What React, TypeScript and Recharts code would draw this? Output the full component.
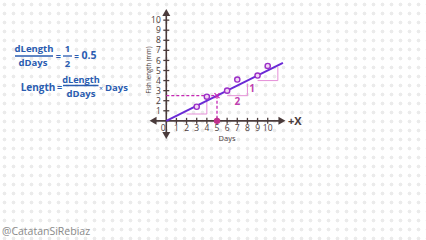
import React from 'react';
import {
  ComposedChart,
  Line,
  Scatter,
  XAxis,
  YAxis,
  ReferenceLine,
} from 'recharts';

// observed fish lengths
const observedDays = [3, 4, 6, 7, 9, 10];
const observedLength = [1.4, 2.4, 3, 4.1, 4.5, 5.45];

// fitted line, slope 1/2
const fitDays = [0, 11.5];
const fitLength = [0, 5.75];

const xTicks = [1, 2, 3, 4, 5, 6, 7, 8, 9, 10];
const yTicks = [1, 2, 3, 4, 5, 6, 7, 8, 9, 10];

// slope triangles: [x1, y1, x2, y2, x3, y3]
const slopeTriangles = [
  [2, 0.68, 4, 0.68, 4, 2.05],
  [6, 2.5, 8, 2.5, 8, 3.7],
  [9, 4, 11, 4, 11, 5.35],
];

// reading the value at day 5
const readDay = 5;
const readLength = 2.5;

const observed = observedDays.map((x, i) => ({ x, y: observedLength[i] }));
const fit = fitDays.map((x, i) => ({ x, y: fitLength[i] }));
const xTickData = xTicks.map((x) => ({ x, y: 0 }));
const yTickData = yTicks.map((y) => ({ x: 0, y }));
const arrows = [
  { x: -1.65, y: 0, dir: 'left' },
  { x: 11.75, y: 0, dir: 'right' },
  { x: 0, y: 11.1, dir: 'up' },
  { x: 0, y: -1.8, dir: 'down' },
];

const AXIS = '#4a3b3b';
const BLUE = '#2a5cb0';
const MAGENTA = '#c628b4';
const PINK = '#e58fd8';
const PURPLE = '#6a2ad6';
const FONT = '"Open Sans", "Noto Sans", sans-serif';

const Arrow = (props: any) => {
  const { cx, cy, payload } = props;
  const s = 4;
  const l = 7;
  let pts = '';
  if (payload.dir === 'left') pts = `${cx},${cy} ${cx + l},${cy - s} ${cx + l},${cy + s}`;
  if (payload.dir === 'right') pts = `${cx},${cy} ${cx - l},${cy - s} ${cx - l},${cy + s}`;
  if (payload.dir === 'up') pts = `${cx},${cy} ${cx - s},${cy + l} ${cx + s},${cy + l}`;
  if (payload.dir === 'down') pts = `${cx},${cy} ${cx - s},${cy - l} ${cx + s},${cy - l}`;
  return <polygon points={pts} fill={AXIS} />;
};

const XTick = (props: any) => {
  const { cx, cy, payload } = props;
  return (
    <g>
      <line x1={cx} y1={cy - 3} x2={cx} y2={cy + 3} stroke={AXIS} strokeWidth={1.3} />
      <text x={cx} y={cy + 10.5} textAnchor="middle" fontSize={8.5} fill={AXIS} fontFamily={FONT}>
        {payload.x}
      </text>
    </g>
  );
};

const YTick = (props: any) => {
  const { cx, cy, payload } = props;
  return (
    <g>
      <line x1={cx - 3} y1={cy} x2={cx + 3} y2={cy} stroke={AXIS} strokeWidth={1.3} />
      <text x={cx - 5.5} y={cy + 3.1} textAnchor="end" fontSize={8.5} fill={AXIS} fontFamily={FONT}>
        {payload.y}
      </text>
    </g>
  );
};

const Point = (props: any) => {
  const { cx, cy } = props;
  return <circle cx={cx} cy={cy} r={2.6} fill="#f3d6f3" stroke="#9a2fc8" strokeWidth={1.4} />;
};

const ReadDot = (props: any) => {
  const { cx, cy } = props;
  return <circle cx={cx} cy={cy} r={3.2} fill="#c0308c" />;
};

const Cross = (props: any) => {
  const { cx, cy } = props;
  return (
    <g stroke={MAGENTA} strokeWidth={1.2}>
      <line x1={cx - 2.5} y1={cy - 2.5} x2={cx + 2.5} y2={cy + 2.5} />
      <line x1={cx - 2.5} y1={cy + 2.5} x2={cx + 2.5} y2={cy - 2.5} />
    </g>
  );
};

// formula text, centred on (x, y)
const T = ({ x, y, size = 9.5, weight = 700, children }: any) => (
  <text
    x={x}
    y={y}
    textAnchor="middle"
    dominantBaseline="central"
    fontSize={size}
    fontWeight={weight}
    fill={BLUE}
    fontFamily={FONT}
  >
    {children}
  </text>
);

const FracBar = ({ x1, x2, y }: any) => <line x1={x1} x2={x2} y1={y} y2={y} stroke={BLUE} strokeWidth={1.3} />;

export default function App() {
  return (
    <div
      style={{
        position: 'fixed',
        left: 0,
        top: 0,
        width: 426,
        height: 240,
        background: '#fff',
        backgroundImage: 'radial-gradient(circle, #ebebeb 1.6px, transparent 2.2px)',
        backgroundSize: '9px 9px',
        overflow: 'hidden',
        fontFamily: FONT,
      }}
    >
      <svg width={426} height={240} style={{ position: 'absolute', left: 0, top: 0 }}>
        <T x={34} y={48.5}>dLength</T>
        <FracBar x1={15} x2={53} y={56} />
        <T x={33} y={62.5}>dDays</T>
        <T x={58.3} y={56} size={9}>=</T>
        <T x={67.5} y={48}>1</T>
        <FracBar x1={63} x2={72} y={56} />
        <T x={67.5} y={63}>2</T>
        <T x={76.5} y={56} size={8}>=</T>
        <T x={89} y={55} size={10.5}>0.5</T>

        <T x={38} y={87} size={10}>Length</T>
        <T x={59.5} y={87} size={9}>=</T>
        <T x={81} y={79.5} size={9.2}>dLength</T>
        <FracBar x1={63} x2={98.5} y={85.5} />
        <T x={81} y={93.5}>dDays</T>
        <T x={101} y={88} size={7} weight={400}>×</T>
        <T x={116.5} y={87.5} size={9.5}>Days</T>
      </svg>

      <div style={{ position: 'absolute', left: 2, top: 224, color: '#8a8a8a', fontSize: 10.5 }}>
        @CatatanSiRebiaz
      </div>

      <div style={{ position: 'absolute', left: 0, top: 0 }}>
        <ComposedChart width={426} height={240} margin={{ top: 0, right: 138, bottom: 99, left: 146 }}>
          <XAxis type="number" dataKey="x" domain={[-2, 12]} hide allowDataOverflow />
          <YAxis type="number" dataKey="y" domain={[-2, 12]} hide allowDataOverflow />

          <ReferenceLine segment={[{ x: -1.3, y: 0 }, { x: 11.4, y: 0 }]} stroke={AXIS} strokeWidth={1.6} ifOverflow="visible" />
          <ReferenceLine segment={[{ x: 0, y: -1.4 }, { x: 0, y: 10.8 }]} stroke={AXIS} strokeWidth={1.6} ifOverflow="visible" />

          {slopeTriangles.map((t, i) => (
            <ReferenceLine key={`h${i}`} segment={[{ x: t[0], y: t[1] }, { x: t[2], y: t[3] }]} stroke={PINK} strokeWidth={1} ifOverflow="visible" />
          ))}
          {slopeTriangles.map((t, i) => (
            <ReferenceLine key={`v${i}`} segment={[{ x: t[2], y: t[3] }, { x: t[4], y: t[5] }]} stroke={PINK} strokeWidth={1} ifOverflow="visible" />
          ))}

          <ReferenceLine segment={[{ x: 0, y: readLength }, { x: readDay, y: readLength }]} stroke={MAGENTA} strokeWidth={1.3} strokeDasharray="3 2" ifOverflow="visible" />
          <ReferenceLine segment={[{ x: readDay, y: readLength }, { x: readDay, y: 0 }]} stroke={MAGENTA} strokeWidth={1.3} strokeDasharray="3 2" ifOverflow="visible" />

          <Scatter data={arrows} shape={Arrow} isAnimationActive={false} />
          <Scatter data={xTickData} shape={XTick} isAnimationActive={false} />
          <Scatter data={yTickData} shape={YTick} isAnimationActive={false} />

          <Line data={fit} dataKey="y" stroke={PURPLE} strokeWidth={2} dot={false} isAnimationActive={false} />
          <Scatter data={observed} shape={Point} isAnimationActive={false} />
          <Scatter data={[{ x: readDay, y: 0 }]} shape={ReadDot} isAnimationActive={false} />
          <Scatter data={[{ x: readDay, y: readLength }]} shape={Cross} isAnimationActive={false} />

          <Scatter
            data={[{ x: 7, y: 1.6 }, { x: 8.45, y: 2.85 }]}
            isAnimationActive={false}
            shape={(p: any) => (
              <text x={p.cx} y={p.cy} textAnchor="middle" fontSize={10} fontWeight={700} fill="#c040b0" fontFamily={FONT}>
                {p.payload.x === 7 ? '2' : '1'}
              </text>
            )}
          />
          <Scatter
            data={[{ x: -0.3, y: 0 }]}
            isAnimationActive={false}
            shape={(p: any) => (
              <text x={p.cx} y={p.cy + 10.5} textAnchor="middle" fontSize={8.5} fill={AXIS} fontFamily={FONT}>0</text>
            )}
          />

          <text x={227} y={141} textAnchor="middle" fontSize={7.5} fill={AXIS} fontFamily={FONT}>Days</text>
          <text x={288} y={124.5} fontSize={11} fontWeight={700} fill={AXIS} fontFamily={FONT}>+X</text>
          <text
            x={148.5}
            y={70}
            transform="rotate(-90 148.5 70)"
            textAnchor="middle"
            dominantBaseline="central"
            fontSize={7}
            textLength={47}
            lengthAdjust="spacingAndGlyphs"
            fill={AXIS}
            fontFamily={FONT}
          >
            Fish length (mm)
          </text>
        </ComposedChart>
      </div>
    </div>
  );
}
